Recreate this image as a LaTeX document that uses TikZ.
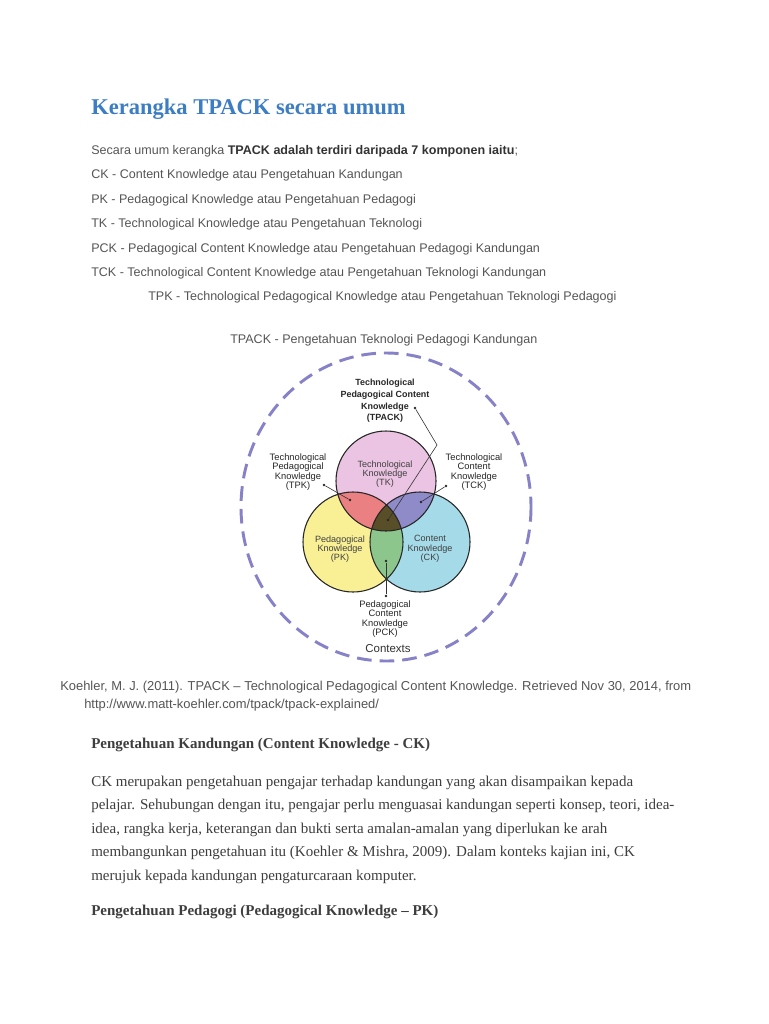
\documentclass[tikz,border=0pt]{standalone}
\usepackage{fontspec}
\setmainfont{Liberation Serif}
\newfontfamily\arial{Liberation Sans}
\definecolor{titleblue}{RGB}{61,125,195}
\definecolor{bodygray}{RGB}{85,85,85}
\definecolor{paragray}{RGB}{62,62,62}
\definecolor{tkpink}{RGB}{234,196,226}
\definecolor{pkyellow}{RGB}{249,240,150}
\definecolor{ckblue}{RGB}{165,218,232}
\definecolor{tpkred}{RGB}{234,128,130}
\definecolor{tckpurple}{RGB}{143,138,200}
\definecolor{pckgreen}{RGB}{140,198,140}
\definecolor{tpackolive}{RGB}{88,78,40}
\definecolor{ctxlav}{RGB}{135,130,200}
\begin{document}
\begin{tikzpicture}[x=0.75pt,y=-0.75pt,
  titletext/.style={anchor=base west,inner sep=0,font=\bfseries\fontsize{16.9}{20}\selectfont,text=titleblue},
  bodytext/.style={anchor=base west,inner sep=0,font=\arial\fontsize{9.4}{11}\selectfont,text=bodygray},
  citetext/.style={anchor=base west,inner sep=0,font=\arial\fontsize{9.7}{11}\selectfont,text=bodygray},
  paratext/.style={anchor=base west,inner sep=0,font=\fontsize{11.25}{13}\selectfont,text=paragray},
  headtext/.style={anchor=base west,inner sep=0,font=\bfseries\fontsize{11.25}{13}\selectfont,text=paragray},
  innerlbl/.style={align=center,inner sep=0,font=\arial\fontsize{6.8}{7}\selectfont,text=black!75},
  outerlbl/.style={align=center,inner sep=0,font=\arial\fontsize{7}{7}\selectfont,text=black!85},
  tpacklbl/.style={align=center,inner sep=0,font=\arial\bfseries\fontsize{6.7}{8.8}\selectfont,text=black!85},
  ctxlbl/.style={inner sep=0,font=\arial\fontsize{8.6}{10}\selectfont,text=black!80},
  leaderdot/.style={circle,fill=black!85,inner sep=0,minimum size=2pt},
  leader/.style={draw=black!80,line width=0.45pt},
  vennline/.style={draw=black!85,line width=0.8pt}]
\useasboundingbox (0,0) rectangle (768,1024);
\fill[white] (0,0) rectangle (768,1024);

% ---------- page text ----------
\node[titletext] (title) at (91,114) {Kerangka TPACK secara umum};
\node[bodytext] (l1) at (91,154) {Secara umum kerangka \textbf{\color{black!80}TPACK adalah terdiri daripada 7 komponen iaitu};};
\node[bodytext] (l2) at (91,178.5) {CK - Content Knowledge atau Pengetahuan Kandungan};
\node[bodytext] (l3) at (91,203) {PK - Pedagogical Knowledge atau Pengetahuan Pedagogi};
\node[bodytext] (l4) at (91,227.5) {TK - Technological Knowledge atau Pengetahuan Teknologi};
\node[bodytext] (l5) at (91,252) {PCK - Pedagogical Content Knowledge atau Pengetahuan Pedagogi Kandungan};
\node[bodytext] (l6) at (91,276.5) {TCK - Technological Content Knowledge atau Pengetahuan Teknologi Kandungan};
\node[bodytext] (l7) at (148,300.5) {TPK - Technological Pedagogical Knowledge atau Pengetahuan Teknologi Pedagogi};
\node[bodytext] (l8) at (230,343) {TPACK - Pengetahuan Teknologi Pedagogi Kandungan};

% ---------- diagram ----------
\draw[ctxlav,line width=2.2pt,dash pattern=on 11pt off 6pt] (386,507) ellipse [x radius=145,y radius=154];

\coordinate (tkc) at (386,481);
\coordinate (pkc) at (353,542);
\coordinate (ckc) at (420,542);
\fill[tkpink] (tkc) circle [radius=50];
\fill[pkyellow] (pkc) circle [radius=50];
\fill[ckblue] (ckc) circle [radius=50];
\begin{scope}
  \clip (tkc) circle [radius=50];
  \fill[tpkred] (pkc) circle [radius=50];
  \fill[tckpurple] (ckc) circle [radius=50];
\end{scope}
\begin{scope}
  \clip (pkc) circle [radius=50];
  \fill[pckgreen] (ckc) circle [radius=50];
\end{scope}
\begin{scope}
  \clip (tkc) circle [radius=50];
  \clip (pkc) circle [radius=50];
  \fill[tpackolive] (ckc) circle [radius=50];
\end{scope}
\draw[vennline] (tkc) circle [radius=50];
\draw[vennline] (pkc) circle [radius=50];
\draw[vennline] (ckc) circle [radius=50];

\node[innerlbl] (tk) at (385,474) {Technological\\Knowledge\\(TK)};
\node[innerlbl] (pk) at (340,549) {Pedagogical\\Knowledge\\(PK)};
\node[innerlbl] (ck) at (430,549) {Content\\Knowledge\\(CK)};

\node[tpacklbl] (tpack) at (385,401) {Technological\\Pedagogical Content\\Knowledge\\(TPACK)};
\node[outerlbl] (tpk) at (298,472) {Technological\\Pedagogical\\Knowledge\\(TPK)};
\node[outerlbl] (tck) at (474,472) {Technological\\Content\\Knowledge\\(TCK)};
\node[outerlbl] (pck) at (385,619) {Pedagogical\\Content\\Knowledge\\(PCK)};
\node[ctxlbl] (ctx) at (388,649) {Contexts};

% leaders
\node[leaderdot] (tpackdot) at (415,408) {};
\node[leaderdot] (tpackend) at (388,520) {};
\coordinate (tpackbend) at (437,445);
\draw[leader] (tpackdot) -- (tpackbend) -- (tpackend);
\node[leaderdot] (tpkdot) at (324,485) {};
\node[leaderdot] (tpkend) at (350,500) {};
\draw[leader] (tpkdot) -- (tpkend);
\node[leaderdot] (tckdot) at (446,486) {};
\node[leaderdot] (tckend) at (421,502) {};
\draw[leader] (tckdot) -- (tckend);
\node[leaderdot] (pckdot) at (386,596) {};
\node[leaderdot] (pckend) at (386,561) {};
\draw[leader] (pckdot) -- (pckend);

% ---------- reference and paragraph ----------
\node[citetext] (cite1) at (60,690) {Koehler, M. J. (2011). TPACK – Technological Pedagogical Content Knowledge. Retrieved Nov 30, 2014, from};
\node[citetext] (cite2) at (84,708) {http://www.matt-koehler.com/tpack/tpack-explained/};

\node[headtext] (h1) at (91,748) {Pengetahuan Kandungan (Content Knowledge - CK)};
\node[paratext] (p1) at (91,786) {CK merupakan pengetahuan pengajar terhadap kandungan yang akan disampaikan kepada};
\node[paratext] (p2) at (91,809.5) {pelajar. Sehubungan dengan itu, pengajar perlu menguasai kandungan seperti konsep, teori, idea-};
\node[paratext] (p3) at (91,833) {idea, rangka kerja, keterangan dan bukti serta amalan-amalan yang diperlukan ke arah};
\node[paratext] (p4) at (91,856.5) {membangunkan pengetahuan itu (Koehler \& Mishra, 2009). Dalam konteks kajian ini, CK};
\node[paratext] (p5) at (91,880) {merujuk kepada kandungan pengaturcaraan komputer.};
\node[headtext] (h2) at (91,915) {Pengetahuan Pedagogi (Pedagogical Knowledge – PK)};
\end{tikzpicture}
\end{document}
